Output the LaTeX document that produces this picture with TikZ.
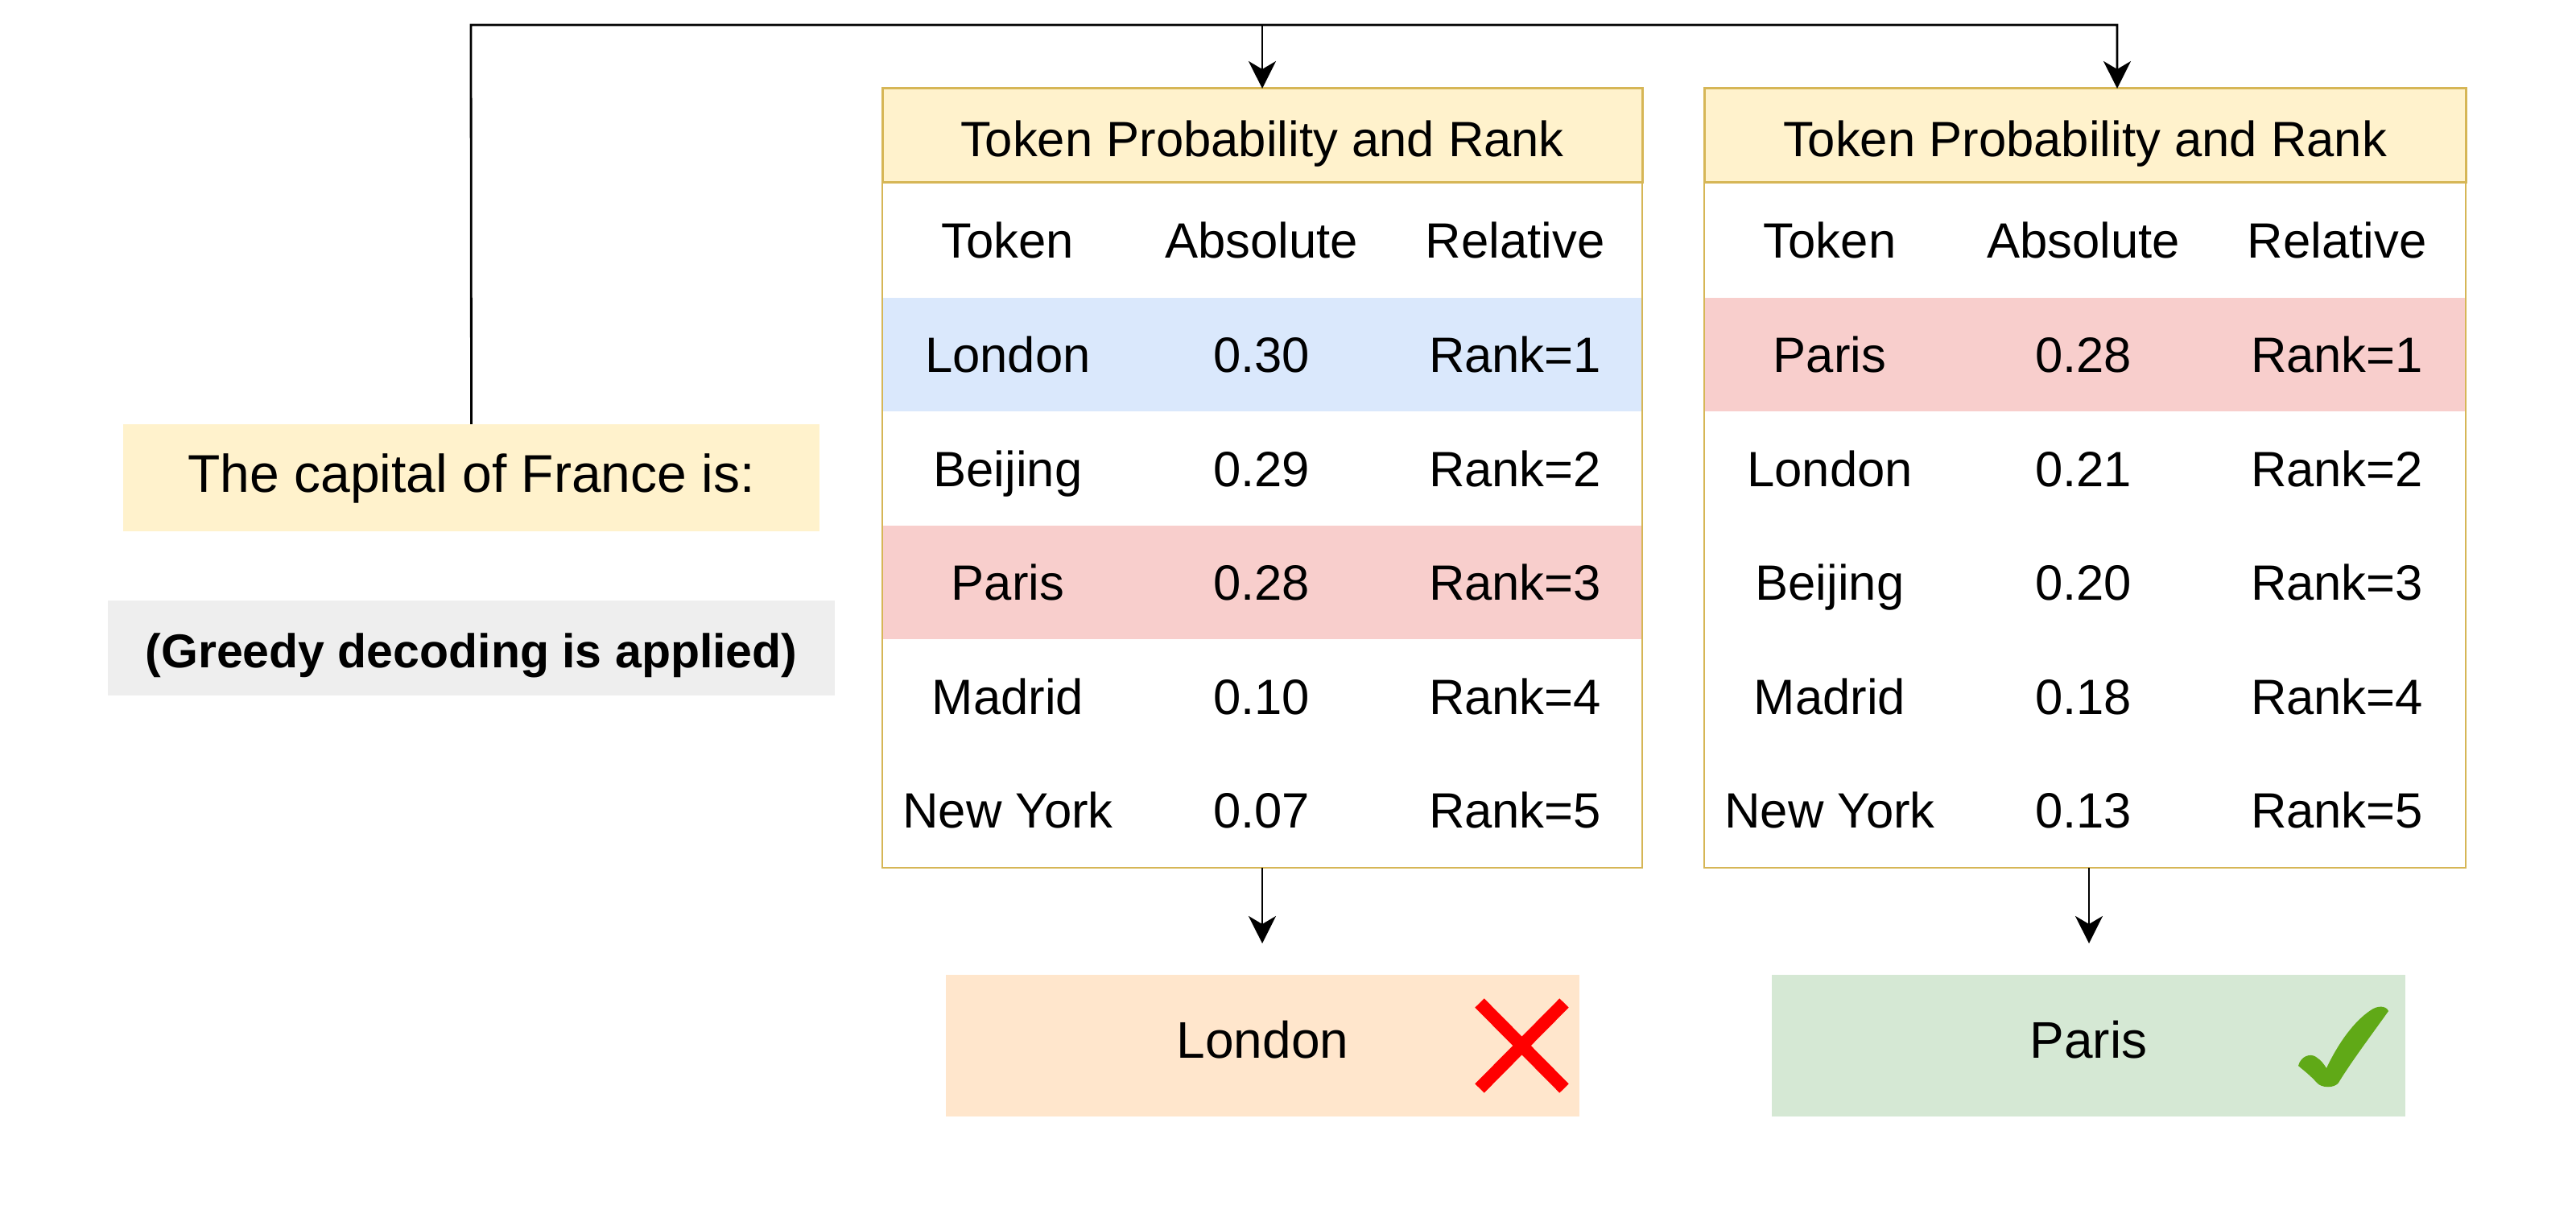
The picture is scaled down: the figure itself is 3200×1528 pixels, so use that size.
\documentclass[tikz,border=0pt]{standalone}
\usepackage{fontspec}
\setmainfont{Liberation Sans}
\usetikzlibrary{arrows.meta}
\definecolor{hdrfill}{HTML}{FFF2CC}
\definecolor{hdrline}{HTML}{D6B656}
\definecolor{bluerow}{HTML}{DAE8FC}
\definecolor{redrow}{HTML}{F8CECC}
\definecolor{orangebox}{HTML}{FFE6CC}
\definecolor{greenbox}{HTML}{D5E8D4}
\definecolor{greybox}{HTML}{EEEEEE}
\definecolor{checkgreen}{HTML}{60A917}
\definecolor{crossred}{HTML}{FF0000}
\begin{document}
\begin{tikzpicture}[x=0.25pt,y=-0.25pt,
  plainbox/.style={inner sep=0pt, outer sep=0pt, draw=none},
  cell/.style={inner sep=0pt, outer sep=0pt, text height=11pt, text depth=0pt, font=\fontsize{15.4}{18}\selectfont},
  hdr/.style={plainbox, fill=hdrfill, draw=hdrline, line width=0.75pt, text height=13.25pt, text depth=0pt, font=\fontsize{15.4}{18}\selectfont},
  tblframe/.style={plainbox, draw=hdrline, line width=0.5pt},
  rowfill/.style={plainbox, minimum width=944*0.25pt, minimum height=141.5*0.25pt, anchor=north west},
  resbox/.style={plainbox, minimum width=787*0.25pt, minimum height=176*0.25pt, text height=7.96pt, text depth=0pt, font=\fontsize{16}{19}\selectfont},
  conn/.style={line width=0.7pt, -{Stealth[length=8.5pt,width=8.5pt,inset=2.5pt]}}]
\useasboundingbox (0,0) rectangle (3200,1528);
\fill[white] (0,0) rectangle (3200,1528);

% left boxes
\node[plainbox, fill=hdrfill, minimum width=865*0.25pt, minimum height=133*0.25pt,
      text height=8.8pt, text depth=0pt,
      font=\fontsize{16.5}{20}\selectfont] (capital) at (585.5,593.5) {The capital of France is:};
\node[plainbox, fill=greybox, minimum width=903*0.25pt, minimum height=117*0.25pt,
      text height=12.06pt, text depth=0pt,
      font=\fontsize{14.75}{18}\selectfont\bfseries] (greedy) at (585.5,805) {(Greedy decoding is applied)};

% table 1
\node[rowfill, fill=bluerow] (t1blue) at (1096,370) {};
\node[rowfill, fill=redrow] (t1red) at (1096,653) {};
\node[tblframe, minimum width=944*0.25pt, minimum height=968*0.25pt, anchor=north west] (t1) at (1096,110) {};
\node[hdr, minimum width=944*0.25pt, minimum height=117*0.25pt, anchor=north west] (t1h) at (1096,110) {Token Probability and Rank};
\node[cell] (t1ha) at (1252,298.5) {Token};
\node[cell] (t1hb) at (1567,298.5) {Absolute};
\node[cell] (t1hc) at (1882,298.5) {Relative};
\foreach \tok/\ab/\re [count=\i] in {London/0.30/Rank=1, Beijing/0.29/Rank=2, Paris/0.28/Rank=3, Madrid/0.10/Rank=4, New York/0.07/Rank=5}{
  \pgfmathsetmacro\ry{370+141.5*(\i-1)+70.75}
  \node[cell] (t1r\i a) at (1252,\ry) {\tok};
  \node[cell] (t1r\i b) at (1567,\ry) {\ab};
  \node[cell] (t1r\i c) at (1882,\ry) {\re};
}

% table 2
\node[rowfill, fill=redrow, minimum width=946*0.25pt] (t2red) at (2117,370) {};
\node[tblframe, minimum width=946*0.25pt, minimum height=968*0.25pt, anchor=north west] (t2) at (2117,110) {};
\node[hdr, minimum width=946*0.25pt, minimum height=117*0.25pt, anchor=north west] (t2h) at (2117,110) {Token Probability and Rank};
\node[cell] (t2ha) at (2273,298.5) {Token};
\node[cell] (t2hb) at (2588,298.5) {Absolute};
\node[cell] (t2hc) at (2903,298.5) {Relative};
\foreach \tok/\ab/\re [count=\i] in {Paris/0.28/Rank=1, London/0.21/Rank=2, Beijing/0.20/Rank=3, Madrid/0.18/Rank=4, New York/0.13/Rank=5}{
  \pgfmathsetmacro\ry{370+141.5*(\i-1)+70.75}
  \node[cell] (t2r\i a) at (2273,\ry) {\tok};
  \node[cell] (t2r\i b) at (2588,\ry) {\ab};
  \node[cell] (t2r\i c) at (2903,\ry) {\re};
}

% result boxes
\node[resbox, fill=orangebox] (resL) at (1568.5,1299) {London};
\node[resbox, fill=greenbox] (resP) at (2594.5,1299) {Paris};

% connectors
\coordinate (topL) at (585,31);
\coordinate (topM) at (1568,31);
\coordinate (topR) at (2630,31);
\coordinate (endL) at (1568,1172);
\coordinate (endP) at (2595,1172);
\draw[conn] (capital.north) -- (topL) -- (topR) -- (topR |- t2h.north);
\draw[conn] (topM) -- (t1h.north);
\draw[conn] (t1.south) -- (endL);
\draw[conn] (endP |- t2.south) -- (endP);

% cross mark
\draw[crossred, line width=4pt] (1838,1246) -- (1943,1352) (1943,1246) -- (1838,1352);

% check mark
\fill[checkgreen] (2855,1324) .. controls (2858,1312) and (2870,1308) .. (2877,1313)
  .. controls (2883,1317) and (2887,1322) .. (2890,1327)
  .. controls (2905,1295) and (2925,1268) .. (2945,1255)
  .. controls (2953,1249) and (2964,1249) .. (2967,1256)
  .. controls (2950,1280) and (2920,1320) .. (2905,1345)
  .. controls (2900,1352) and (2884,1352) .. (2878,1345)
  .. controls (2870,1336) and (2862,1330) .. (2855,1324) -- cycle;
\end{tikzpicture}
\end{document}
